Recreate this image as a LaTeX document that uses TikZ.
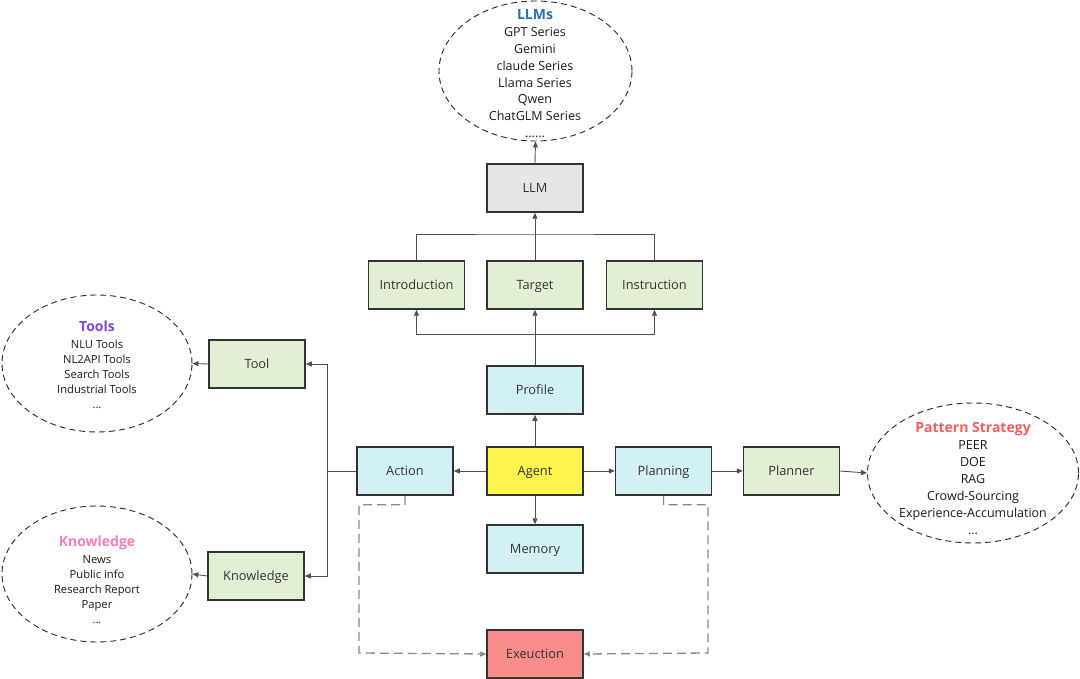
\documentclass[tikz,border=0pt]{standalone}
\usepackage{fontspec}
\setmainfont{Open Sans}
\usetikzlibrary{arrows.meta,shapes.geometric,positioning}
\definecolor{gfill}{HTML}{E3EFD4}
\definecolor{bfill}{HTML}{D3F0F5}
\definecolor{yfill}{HTML}{FBF54C}
\definecolor{grfill}{HTML}{E6E6E6}
\definecolor{rfill}{HTML}{FB8C8C}
\definecolor{bordc}{HTML}{333333}
\definecolor{linec}{HTML}{505050}
\definecolor{dashc}{HTML}{888888}
\definecolor{txtc}{HTML}{333333}
\definecolor{tblue}{HTML}{1F72B8}
\definecolor{tpurple}{HTML}{7A4CE0}
\definecolor{tpink}{HTML}{F07FC2}
\definecolor{tred}{HTML}{F05E5E}
\tikzset{
  box/.style={draw=bordc,line width=1.5pt,minimum width=96pt,minimum height=48pt,inner sep=0pt,font=\fontsize{12.8}{14}\selectfont,text=txtc,text height=1.8ex,text depth=0.15ex},
  gbox/.style={box,fill=gfill},
  bbox/.style={box,fill=bfill},
  cloud/.style={draw=black!85,dashed,dash pattern=on 6pt off 4pt,line width=0.9pt,ellipse,inner sep=0pt},
  conn/.style={draw=linec,line width=0.9pt},
  arr/.style={conn,-{Triangle[length=6pt,width=5pt]}},
  dconn/.style={draw=dashc,line width=1.3pt,dash pattern=on 9pt off 5pt,-{Triangle[length=6pt,width=5pt]}},
  ltxt/.style={font=\fontsize{12.5}{14}\selectfont,text=black!90,inner sep=0pt,text height=1.8ex,text depth=0.15ex},
  stxt/.style={font=\fontsize{11.2}{12}\selectfont,text=black!90,inner sep=0pt,text height=1.8ex,text depth=0.15ex},
  ttl/.style={font=\fontsize{14}{16}\selectfont\bfseries,inner sep=0pt,text height=1.8ex,text depth=0.15ex},
}
\begin{document}
\begin{tikzpicture}[x=1pt,y=-1pt]
\useasboundingbox (0,0) rectangle (1080,679);
% ellipses
\node[cloud,minimum width=193pt,minimum height=140pt] (llms) at (535.5,71) {};
\node[cloud,minimum width=190pt,minimum height=137pt] (tools) at (97,363.5) {};
\node[cloud,minimum width=190pt,minimum height=136pt] (know) at (97,574) {};
\node[cloud,minimum width=211pt,minimum height=140pt] (patt) at (973,473) {};
% ellipse texts
\node[ttl,text=tblue] (t1) at (535,15) {LLMs};
\node[ltxt] (l1) at (535,32) {GPT Series};
\node[ltxt] (l2) at (535,49) {Gemini};
\node[ltxt] (l3) at (535,66) {claude Series};
\node[ltxt] (l4) at (535,83) {Llama Series};
\node[ltxt] (l5) at (535,99.5) {Qwen};
\node[ltxt] (l6) at (535,116.5) {ChatGLM Series};
\node[ltxt] (l7) at (535,133) {......};
\node[ttl,text=tpurple] (t2) at (97,327) {Tools};
\node[stxt] (a1) at (97,344) {NLU Tools};
\node[stxt] (a2) at (97,359) {NL2API Tools};
\node[stxt] (a3) at (97,374) {Search Tools};
\node[stxt] (a4) at (97,389) {Industrial Tools};
\node[stxt] (a5) at (97,404) {...};
\node[ttl,text=tpink] (t3) at (97,542) {Knowledge};
\node[stxt] (k1) at (97,559) {News};
\node[stxt] (k2) at (97,574) {Public info};
\node[stxt] (k3) at (97,589) {Research Report};
\node[stxt] (k4) at (97,604) {Paper};
\node[stxt] (k5) at (97,619) {...};
\node[ttl,text=tred] (t4) at (973,428) {Pattern Strategy};
\node[ltxt] (p1) at (973,445) {PEER};
\node[ltxt] (p2) at (973,462) {DOE};
\node[ltxt] (p3) at (973,479) {RAG};
\node[ltxt] (p4) at (973,496) {Crowd-Sourcing};
\node[ltxt] (p5) at (973,513) {Experience-Accumulation};
\node[ltxt] (p6) at (973,530) {...};
% boxes
\node[box,fill=grfill] (llm) at (535,188) {LLM};
\node[gbox] (intro) at (416.5,285) {Introduction};
\node[gbox] (target) at (535,285) {Target};
\node[gbox] (instr) at (654.5,285) {Instruction};
\node[bbox] (profile) at (535,390) {Profile};
\node[box,fill=yfill] (agent) at (535,471) {Agent};
\node[bbox] (action) at (405,471) {Action};
\node[bbox] (planning) at (663.5,471) {Planning};
\node[bbox] (memory) at (535,549) {Memory};
\node[box,fill=rfill] (exec) at (535,654) {Exeuction};
\node[gbox] (planner) at (791.5,471) {Planner};
\node[gbox] (tool) at (257,364) {Tool};
\node[gbox] (knowb) at (256,576) {Knowledge};
% coordinates
\coordinate (busT) at (535,234);
\coordinate (busB) at (535,334);
\coordinate (junc) at (327,471);
% connectors top
\draw[arr] (llm.north) -- (llms.south);
\draw[arr] (target.north) -- (llm.south);
\draw[conn] (intro.north) |- (busT) -| (instr.north);
\draw[arr] (profile.north) -- (target.south);
\draw[arr] (busB) -| (intro.south);
\draw[arr] (busB) -| (instr.south);
% agent
\draw[arr] (agent.north) -- (profile.south);
\draw[arr] (agent.south) -- (memory.north);
\draw[arr] (agent.west) -- (action.east);
\draw[arr] (agent.east) -- (planning.west);
\draw[arr] (planning.east) -- (planner.west);
\draw[arr] (planner.east) -- (patt.west);
% action to tool/knowledge
\draw[conn] (action.west) -- (junc);
\draw[arr] (junc) |- (tool.east);
\draw[arr] (junc) |- (knowb.east);
\draw[arr] (tool.west) -- (tools.east);
\draw[arr] (knowb.west) -- (know.east);
% dashed
\draw[dconn] (action.south) -- ++(0,9) -| (359,653) -- (exec.west);
\draw[dconn] (planning.south) -- ++(0,9) -| (708,653) -- (exec.east);
\end{tikzpicture}
\end{document}
